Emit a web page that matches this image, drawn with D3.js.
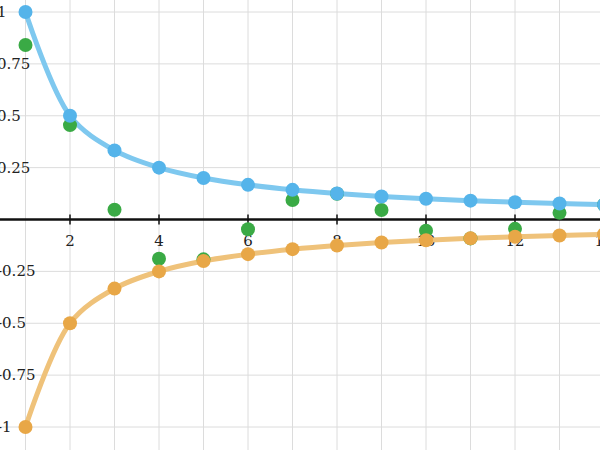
<!DOCTYPE html><html><head><script src="https://cdn.jsdelivr.net/npm/d3@7"></script>
<style>body{margin:0;background:#fff}</style></head><body><svg id="c" width="600" height="450"></svg>
<script>
const ns=[1,2,3,4,5,6,7,8,9,10,11,12,13,14];
const blue=[1,0.5,0.333,0.25,0.2,0.167,0.143,0.125,0.111,0.1,0.0909,0.0833,0.0769,0.0714];
const orange=[-1,-0.5,-0.333,-0.25,-0.2,-0.167,-0.143,-0.125,-0.111,-0.1,-0.0909,-0.0833,-0.0769,-0.0714];
const green=[0.841,0.455,0.047,-0.189,-0.192,-0.047,0.094,0.124,0.046,-0.054,-0.091,-0.045,0.032,0.071];
const xTicks=[2,4,6,8,10,12,14], yTicks=[1,0.75,0.5,0.25,-0.25,-0.5,-0.75,-1];
const svg=d3.select("#c");
const x=d3.scaleLinear().domain([1,14]).range([25.5,604]);
const y=d3.scaleLinear().domain([1,-1]).range([12,427]);
const g=svg.append("g");
g.selectAll(".vx").data(d3.range(0,16)).join("line").attr("x1",x).attr("x2",x).attr("y1",0).attr("y2",450).attr("stroke","#dcdcdc").attr("stroke-width",1);
g.selectAll(".hy").data(d3.range(-1.25,1.5,0.25)).join("line").attr("y1",y).attr("y2",y).attr("x1",0).attr("x2",600).attr("stroke","#dcdcdc");
g.append("line").attr("x1",0).attr("x2",600).attr("y1",y(0)).attr("y2",y(0)).attr("stroke","#111").attr("stroke-width",2.5);
g.selectAll(".tk").data(xTicks).join("line").attr("x1",x).attr("x2",x).attr("y1",y(0)-5).attr("y2",y(0)+5).attr("stroke","#111").attr("stroke-width",1.5);
const font="DejaVu Serif";
g.selectAll(".xl").data(xTicks).join("text").attr("x",x).attr("y",y(0)+26).attr("text-anchor","middle").attr("font-family",font).attr("font-size",15).attr("fill","#222").text(d=>d);
g.selectAll(".yl").data(yTicks).join("text").attr("x",-3).attr("y",d=>y(d)+5).attr("font-family",font).attr("font-size",15).attr("fill","#222").text(d=>d);
const line=d3.line().x((d,i)=>x(ns[i])).y(d=>y(d)).curve(d3.curveCatmullRom.alpha(0.5));
svg.append("path").attr("d",line(blue)).attr("fill","none").attr("stroke","#7ec8ef").attr("stroke-width",5);
svg.append("path").attr("d",line(orange)).attr("fill","none").attr("stroke","#efc27a").attr("stroke-width",5);
function pts(arr,c){svg.append("g").selectAll("circle").data(arr).join("circle").attr("cx",(d,i)=>x(ns[i])).attr("cy",d=>y(d)).attr("r",7).attr("fill",c);}
pts(green,"#3aaa45");pts(blue,"#55b4ea");pts(orange,"#e8a747");
</script></body></html>
